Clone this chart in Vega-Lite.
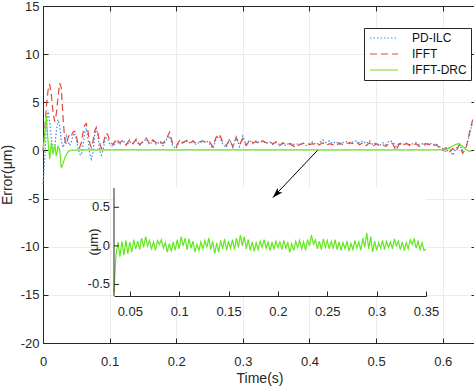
{
  "$schema": "https://vega.github.io/schema/vega-lite/v6.json",
  "width": 433,
  "height": 337,
  "autosize": "none",
  "padding": {"left": 43, "top": 6, "right": 0, "bottom": 43},
  "background": "white",
  "config": {
    "font": "Liberation Sans",
    "view": {"stroke": null},
    "axis": {
      "labelFont": "Liberation Sans",
      "titleFont": "Liberation Sans",
      "labelFontSize": 13,
      "titleFontSize": 14,
      "titleFontWeight": "normal",
      "labelColor": "#262626",
      "titleColor": "#262626",
      "domainColor": "#262626",
      "tickColor": "#262626",
      "tickSize": -5,
      "labelFlush": false,
      "gridColor": "#ececec",
      "labelExpr": "'' + datum.value"
    },
    "legend": {"labelFont": "Liberation Sans"}
  },
  "datasets": {
    "main": [
      {"t": 0, "PD-ILC": -3.5, "IFFT": 0, "IFFT-DRC": 0},
      {"t": 0.0025, "PD-ILC": -1.0, "IFFT": 2.0, "IFFT-DRC": 1.5},
      {"t": 0.005, "PD-ILC": 2.5, "IFFT": 4.5, "IFFT-DRC": 3.6},
      {"t": 0.0075, "PD-ILC": 4.2, "IFFT": 6.2, "IFFT-DRC": 1.0},
      {"t": 0.01, "PD-ILC": 3.0, "IFFT": 6.9, "IFFT-DRC": -0.9},
      {"t": 0.0125, "PD-ILC": 1.2, "IFFT": 5.8, "IFFT-DRC": 0.8},
      {"t": 0.015, "PD-ILC": 0.1, "IFFT": 4.0, "IFFT-DRC": -0.4},
      {"t": 0.0175, "PD-ILC": 0.2, "IFFT": 3.0, "IFFT-DRC": 0.6},
      {"t": 0.02, "PD-ILC": 2.0, "IFFT": 3.8, "IFFT-DRC": -0.6},
      {"t": 0.0225, "PD-ILC": 3.2, "IFFT": 5.5, "IFFT-DRC": 0.4},
      {"t": 0.025, "PD-ILC": 2.6, "IFFT": 7.0, "IFFT-DRC": 0.1},
      {"t": 0.0275, "PD-ILC": 1.0, "IFFT": 6.5, "IFFT-DRC": -1.8},
      {"t": 0.03, "PD-ILC": 0.3, "IFFT": 3.5, "IFFT-DRC": -1.4},
      {"t": 0.0325, "PD-ILC": 0.8, "IFFT": 1.2, "IFFT-DRC": -0.8},
      {"t": 0.035, "PD-ILC": 1.5, "IFFT": 0.6, "IFFT-DRC": -0.45},
      {"t": 0.0375, "PD-ILC": 1.0, "IFFT": 1.3, "IFFT-DRC": -0.15},
      {"t": 0.04, "PD-ILC": 0.5, "IFFT": 1.7, "IFFT-DRC": -0.05},
      {"t": 0.0425, "PD-ILC": 0.9, "IFFT": 1.5, "IFFT-DRC": 0.02},
      {"t": 0.045, "PD-ILC": 1.5, "IFFT": 1.9, "IFFT-DRC": 0.05},
      {"t": 0.0475, "PD-ILC": 1.8, "IFFT": 2.0, "IFFT-DRC": 0.0},
      {"t": 0.05, "PD-ILC": 1.2, "IFFT": 1.5, "IFFT-DRC": 0.06},
      {"t": 0.0525, "PD-ILC": 0.3, "IFFT": 0.7, "IFFT-DRC": 0.04},
      {"t": 0.055, "PD-ILC": -0.4, "IFFT": 0.3, "IFFT-DRC": 0.06},
      {"t": 0.0575, "PD-ILC": -0.5, "IFFT": 0.8, "IFFT-DRC": 0.05},
      {"t": 0.06, "PD-ILC": 0.5, "IFFT": 1.8, "IFFT-DRC": 0.07},
      {"t": 0.0625, "PD-ILC": 1.8, "IFFT": 2.6, "IFFT-DRC": 0.05},
      {"t": 0.065, "PD-ILC": 2.3, "IFFT": 2.8, "IFFT-DRC": 0.06},
      {"t": 0.0675, "PD-ILC": 1.2, "IFFT": 2.0, "IFFT-DRC": 0.05},
      {"t": 0.07, "PD-ILC": -0.3, "IFFT": 0.8, "IFFT-DRC": 0.07},
      {"t": 0.0725, "PD-ILC": -0.9, "IFFT": 0.3, "IFFT-DRC": 0.05},
      {"t": 0.075, "PD-ILC": -0.2, "IFFT": 0.9, "IFFT-DRC": 0.06},
      {"t": 0.0775, "PD-ILC": 1.5, "IFFT": 2.0, "IFFT-DRC": 0.05},
      {"t": 0.08, "PD-ILC": 2.3, "IFFT": 2.4, "IFFT-DRC": 0.07},
      {"t": 0.0825, "PD-ILC": 1.5, "IFFT": 1.8, "IFFT-DRC": 0.05},
      {"t": 0.085, "PD-ILC": 0.0, "IFFT": 0.8, "IFFT-DRC": 0.06},
      {"t": 0.0875, "PD-ILC": -0.5, "IFFT": 0.2, "IFFT-DRC": 0.05},
      {"t": 0.09, "PD-ILC": 0.0, "IFFT": 0.6, "IFFT-DRC": 0.07},
      {"t": 0.0925, "PD-ILC": 0.9, "IFFT": 1.3, "IFFT-DRC": 0.05},
      {"t": 0.095, "PD-ILC": 1.3, "IFFT": 1.8, "IFFT-DRC": 0.06},
      {"t": 0.0975, "PD-ILC": 1.1, "IFFT": 1.6, "IFFT-DRC": 0.05},
      {"t": 0.1, "PD-ILC": 0.7, "IFFT": 1.0, "IFFT-DRC": 0.06},
      {"t": 0.105, "PD-ILC": 0.4, "IFFT": 0.6, "IFFT-DRC": 0.05},
      {"t": 0.11, "PD-ILC": 1.0, "IFFT": 1.2, "IFFT-DRC": 0.08},
      {"t": 0.115, "PD-ILC": 0.6, "IFFT": 0.8, "IFFT-DRC": 0.05},
      {"t": 0.12, "PD-ILC": 1.1, "IFFT": 1.0, "IFFT-DRC": 0.06},
      {"t": 0.125, "PD-ILC": 0.5, "IFFT": 0.6, "IFFT-DRC": 0.07},
      {"t": 0.13, "PD-ILC": 0.9, "IFFT": 1.1, "IFFT-DRC": 0.05},
      {"t": 0.135, "PD-ILC": 0.7, "IFFT": 0.7, "IFFT-DRC": 0.08},
      {"t": 0.14, "PD-ILC": 1.0, "IFFT": 1.2, "IFFT-DRC": 0.06},
      {"t": 0.145, "PD-ILC": 0.5, "IFFT": 0.6, "IFFT-DRC": 0.05},
      {"t": 0.15, "PD-ILC": 0.9, "IFFT": 0.9, "IFFT-DRC": 0.07},
      {"t": 0.155, "PD-ILC": 1.2, "IFFT": 1.3, "IFFT-DRC": 0.06},
      {"t": 0.16, "PD-ILC": 0.6, "IFFT": 0.7, "IFFT-DRC": 0.05},
      {"t": 0.165, "PD-ILC": 1.0, "IFFT": 1.1, "IFFT-DRC": 0.07},
      {"t": 0.17, "PD-ILC": 0.6, "IFFT": 0.8, "IFFT-DRC": 0.06},
      {"t": 0.175, "PD-ILC": 0.9, "IFFT": 1.0, "IFFT-DRC": 0.05},
      {"t": 0.18, "PD-ILC": 0.5, "IFFT": 0.7, "IFFT-DRC": 0.08},
      {"t": 0.185, "PD-ILC": 1.1, "IFFT": 1.2, "IFFT-DRC": 0.06},
      {"t": 0.19, "PD-ILC": 1.5, "IFFT": 1.9, "IFFT-DRC": 0.07},
      {"t": 0.195, "PD-ILC": 0.4, "IFFT": 0.6, "IFFT-DRC": 0.05},
      {"t": 0.2, "PD-ILC": 0.2, "IFFT": 0.4, "IFFT-DRC": 0.06},
      {"t": 0.205, "PD-ILC": 1.0, "IFFT": 1.1, "IFFT-DRC": 0.07},
      {"t": 0.21, "PD-ILC": 0.7, "IFFT": 0.8, "IFFT-DRC": 0.05},
      {"t": 0.215, "PD-ILC": 1.1, "IFFT": 1.0, "IFFT-DRC": 0.06},
      {"t": 0.22, "PD-ILC": 0.8, "IFFT": 0.7, "IFFT-DRC": 0.08},
      {"t": 0.225, "PD-ILC": 0.9, "IFFT": 1.0, "IFFT-DRC": 0.06},
      {"t": 0.23, "PD-ILC": 0.6, "IFFT": 0.7, "IFFT-DRC": 0.05},
      {"t": 0.235, "PD-ILC": 0.9, "IFFT": 0.9, "IFFT-DRC": 0.07},
      {"t": 0.24, "PD-ILC": 0.8, "IFFT": 1.0, "IFFT-DRC": 0.06},
      {"t": 0.245, "PD-ILC": 1.0, "IFFT": 0.8, "IFFT-DRC": 0.05},
      {"t": 0.25, "PD-ILC": 0.7, "IFFT": 0.9, "IFFT-DRC": 0.07},
      {"t": 0.255, "PD-ILC": 0.2, "IFFT": 0.4, "IFFT-DRC": 0.06},
      {"t": 0.26, "PD-ILC": 1.2, "IFFT": 1.4, "IFFT-DRC": 0.05},
      {"t": 0.265, "PD-ILC": 1.5, "IFFT": 1.7, "IFFT-DRC": 0.07},
      {"t": 0.27, "PD-ILC": 0.6, "IFFT": 0.8, "IFFT-DRC": 0.06},
      {"t": 0.275, "PD-ILC": 0.3, "IFFT": 0.5, "IFFT-DRC": 0.05},
      {"t": 0.28, "PD-ILC": 1.2, "IFFT": 1.1, "IFFT-DRC": 0.06},
      {"t": 0.285, "PD-ILC": 0.3, "IFFT": 0.4, "IFFT-DRC": 0.07},
      {"t": 0.29, "PD-ILC": 1.4, "IFFT": 1.3, "IFFT-DRC": 0.05},
      {"t": 0.295, "PD-ILC": 0.4, "IFFT": 0.6, "IFFT-DRC": 0.06},
      {"t": 0.3, "PD-ILC": 1.5, "IFFT": 1.2, "IFFT-DRC": 0.07},
      {"t": 0.305, "PD-ILC": 0.6, "IFFT": 0.5, "IFFT-DRC": 0.05},
      {"t": 0.31, "PD-ILC": 1.1, "IFFT": 1.0, "IFFT-DRC": 0.06},
      {"t": 0.315, "PD-ILC": 0.7, "IFFT": 0.8, "IFFT-DRC": 0.07},
      {"t": 0.32, "PD-ILC": 1.0, "IFFT": 0.9, "IFFT-DRC": 0.05},
      {"t": 0.325, "PD-ILC": 0.8, "IFFT": 0.7, "IFFT-DRC": 0.06},
      {"t": 0.33, "PD-ILC": 1.0, "IFFT": 1.0, "IFFT-DRC": 0.06},
      {"t": 0.335, "PD-ILC": 0.7, "IFFT": 0.8, "IFFT-DRC": 0.05},
      {"t": 0.34, "PD-ILC": 0.9, "IFFT": 0.9, "IFFT-DRC": 0.07},
      {"t": 0.345, "PD-ILC": 0.6, "IFFT": 0.7, "IFFT-DRC": 0.06},
      {"t": 0.35, "PD-ILC": 0.8, "IFFT": 0.9, "IFFT-DRC": 0.05},
      {"t": 0.355, "PD-ILC": 0.6, "IFFT": 0.5, "IFFT-DRC": 0.07},
      {"t": 0.36, "PD-ILC": 0.7, "IFFT": 0.8, "IFFT-DRC": 0.06},
      {"t": 0.365, "PD-ILC": 0.5, "IFFT": 0.6, "IFFT-DRC": 0.05},
      {"t": 0.37, "PD-ILC": 0.8, "IFFT": 0.7, "IFFT-DRC": 0.06},
      {"t": 0.375, "PD-ILC": 0.6, "IFFT": 0.5, "IFFT-DRC": 0.07},
      {"t": 0.38, "PD-ILC": 0.7, "IFFT": 0.3, "IFFT-DRC": 0.05},
      {"t": 0.385, "PD-ILC": 0.6, "IFFT": 0.6, "IFFT-DRC": 0.06},
      {"t": 0.39, "PD-ILC": 0.8, "IFFT": 0.7, "IFFT-DRC": 0.07},
      {"t": 0.395, "PD-ILC": 0.5, "IFFT": 0.8, "IFFT-DRC": 0.05},
      {"t": 0.4, "PD-ILC": 0.7, "IFFT": 0.6, "IFFT-DRC": 0.06},
      {"t": 0.405, "PD-ILC": 0.9, "IFFT": 0.7, "IFFT-DRC": 0.07},
      {"t": 0.41, "PD-ILC": 0.6, "IFFT": 0.5, "IFFT-DRC": 0.05},
      {"t": 0.415, "PD-ILC": 0.8, "IFFT": 0.6, "IFFT-DRC": 0.06},
      {"t": 0.42, "PD-ILC": 1.1, "IFFT": 0.8, "IFFT-DRC": 0.06},
      {"t": 0.425, "PD-ILC": 0.8, "IFFT": 0.5, "IFFT-DRC": 0.05},
      {"t": 0.43, "PD-ILC": 1.0, "IFFT": 0.7, "IFFT-DRC": 0.07},
      {"t": 0.435, "PD-ILC": 0.7, "IFFT": 0.6, "IFFT-DRC": 0.06},
      {"t": 0.44, "PD-ILC": 0.9, "IFFT": 0.5, "IFFT-DRC": 0.05},
      {"t": 0.445, "PD-ILC": 0.6, "IFFT": 0.8, "IFFT-DRC": 0.06},
      {"t": 0.45, "PD-ILC": 0.8, "IFFT": 0.6, "IFFT-DRC": 0.07},
      {"t": 0.455, "PD-ILC": 0.9, "IFFT": 0.7, "IFFT-DRC": 0.05},
      {"t": 0.46, "PD-ILC": 0.7, "IFFT": 0.8, "IFFT-DRC": 0.06},
      {"t": 0.465, "PD-ILC": 0.9, "IFFT": 0.7, "IFFT-DRC": 0.05},
      {"t": 0.47, "PD-ILC": 1.0, "IFFT": 0.9, "IFFT-DRC": 0.07},
      {"t": 0.475, "PD-ILC": 0.8, "IFFT": 0.6, "IFFT-DRC": 0.06},
      {"t": 0.48, "PD-ILC": 1.0, "IFFT": 0.8, "IFFT-DRC": 0.05},
      {"t": 0.485, "PD-ILC": 0.7, "IFFT": 0.5, "IFFT-DRC": 0.06},
      {"t": 0.49, "PD-ILC": 1.0, "IFFT": 0.8, "IFFT-DRC": 0.07},
      {"t": 0.495, "PD-ILC": 0.6, "IFFT": 0.4, "IFFT-DRC": 0.05},
      {"t": 0.5, "PD-ILC": 0.8, "IFFT": 0.7, "IFFT-DRC": 0.06},
      {"t": 0.505, "PD-ILC": 0.5, "IFFT": 0.5, "IFFT-DRC": 0.07},
      {"t": 0.51, "PD-ILC": 0.8, "IFFT": 0.6, "IFFT-DRC": 0.05},
      {"t": 0.515, "PD-ILC": 0.6, "IFFT": 0.4, "IFFT-DRC": 0.06},
      {"t": 0.52, "PD-ILC": 1.0, "IFFT": 0.8, "IFFT-DRC": 0.05},
      {"t": 0.525, "PD-ILC": 0.9, "IFFT": 0.7, "IFFT-DRC": 0.07},
      {"t": 0.53, "PD-ILC": 0.4, "IFFT": 0.0, "IFFT-DRC": 0.06},
      {"t": 0.535, "PD-ILC": 0.8, "IFFT": 0.7, "IFFT-DRC": 0.05},
      {"t": 0.54, "PD-ILC": 0.6, "IFFT": 0.5, "IFFT-DRC": 0.06},
      {"t": 0.545, "PD-ILC": 0.8, "IFFT": 0.7, "IFFT-DRC": 0.07},
      {"t": 0.55, "PD-ILC": 0.5, "IFFT": 0.6, "IFFT-DRC": 0.05},
      {"t": 0.555, "PD-ILC": 0.7, "IFFT": 0.5, "IFFT-DRC": 0.06},
      {"t": 0.56, "PD-ILC": 0.8, "IFFT": 0.7, "IFFT-DRC": 0.05},
      {"t": 0.565, "PD-ILC": 0.6, "IFFT": 0.4, "IFFT-DRC": 0.07},
      {"t": 0.57, "PD-ILC": 0.7, "IFFT": 0.6, "IFFT-DRC": 0.06},
      {"t": 0.575, "PD-ILC": 0.5, "IFFT": 0.7, "IFFT-DRC": 0.05},
      {"t": 0.58, "PD-ILC": 0.8, "IFFT": 0.6, "IFFT-DRC": 0.06},
      {"t": 0.585, "PD-ILC": 0.6, "IFFT": 0.4, "IFFT-DRC": 0.07},
      {"t": 0.59, "PD-ILC": 0.7, "IFFT": 0.6, "IFFT-DRC": 0.05},
      {"t": 0.595, "PD-ILC": 0.4, "IFFT": 0.3, "IFFT-DRC": 0.08},
      {"t": 0.6, "PD-ILC": 0.2, "IFFT": 0.0, "IFFT-DRC": 0.05},
      {"t": 0.605, "PD-ILC": -0.2, "IFFT": 0.3, "IFFT-DRC": 0.1},
      {"t": 0.61, "PD-ILC": 0.3, "IFFT": -0.2, "IFFT-DRC": 0.25},
      {"t": 0.615, "PD-ILC": -0.5, "IFFT": 0.2, "IFFT-DRC": 0.45},
      {"t": 0.62, "PD-ILC": 0.2, "IFFT": -0.1, "IFFT-DRC": 0.65},
      {"t": 0.625, "PD-ILC": 0.6, "IFFT": 0.6, "IFFT-DRC": 0.7},
      {"t": 0.63, "PD-ILC": 0.0, "IFFT": -0.3, "IFFT-DRC": 0.4},
      {"t": 0.635, "PD-ILC": 0.4, "IFFT": 0.2, "IFFT-DRC": 0.1},
      {"t": 0.64, "PD-ILC": 1.5, "IFFT": 1.8, "IFFT-DRC": -0.1},
      {"t": 0.645, "PD-ILC": 3.0, "IFFT": 3.2, "IFFT-DRC": 0.0}
    ],
    "inset": [
      {"t": 0.034, "v": -0.6}, {"t": 0.035, "v": -0.35}, {"t": 0.036, "v": -0.12}, {"t": 0.038, "v": 0.05},
      {"t": 0.04, "v": -0.14}, {"t": 0.042, "v": 0.06}, {"t": 0.044, "v": -0.12}, {"t": 0.046, "v": 0.07},
      {"t": 0.048, "v": -0.1}, {"t": 0.05, "v": 0.05}, {"t": 0.052, "v": -0.08}, {"t": 0.054, "v": 0.08},
      {"t": 0.056, "v": -0.04}, {"t": 0.058, "v": 0.06}, {"t": 0.06, "v": -0.05}, {"t": 0.062, "v": 0.1},
      {"t": 0.064, "v": -0.02}, {"t": 0.066, "v": 0.12}, {"t": 0.068, "v": 0.0}, {"t": 0.07, "v": 0.07},
      {"t": 0.072, "v": -0.04}, {"t": 0.074, "v": 0.05}, {"t": 0.076, "v": -0.06}, {"t": 0.078, "v": 0.07},
      {"t": 0.08, "v": 0.02}, {"t": 0.082, "v": 0.08}, {"t": 0.084, "v": -0.03}, {"t": 0.086, "v": 0.04},
      {"t": 0.088, "v": -0.08}, {"t": 0.09, "v": 0.03}, {"t": 0.092, "v": -0.07}, {"t": 0.094, "v": 0.05},
      {"t": 0.096, "v": -0.06}, {"t": 0.098, "v": 0.08}, {"t": 0.1, "v": -0.04}, {"t": 0.102, "v": 0.12},
      {"t": 0.104, "v": 0.0}, {"t": 0.106, "v": 0.1}, {"t": 0.108, "v": -0.05}, {"t": 0.11, "v": 0.09},
      {"t": 0.112, "v": -0.03}, {"t": 0.114, "v": 0.06}, {"t": 0.116, "v": -0.08}, {"t": 0.118, "v": 0.02},
      {"t": 0.12, "v": -0.06}, {"t": 0.122, "v": 0.05}, {"t": 0.124, "v": -0.04}, {"t": 0.126, "v": 0.07},
      {"t": 0.128, "v": -0.02}, {"t": 0.13, "v": 0.1}, {"t": 0.132, "v": -0.05}, {"t": 0.134, "v": 0.06},
      {"t": 0.136, "v": -0.1}, {"t": 0.138, "v": 0.04}, {"t": 0.14, "v": -0.08}, {"t": 0.142, "v": 0.07},
      {"t": 0.144, "v": -0.04}, {"t": 0.146, "v": 0.09}, {"t": 0.148, "v": -0.06}, {"t": 0.15, "v": 0.06},
      {"t": 0.152, "v": -0.03}, {"t": 0.154, "v": 0.08}, {"t": 0.156, "v": -0.05}, {"t": 0.158, "v": 0.1},
      {"t": 0.16, "v": -0.02}, {"t": 0.162, "v": 0.14}, {"t": 0.164, "v": 0.0}, {"t": 0.166, "v": 0.12},
      {"t": 0.168, "v": -0.04}, {"t": 0.17, "v": 0.08}, {"t": 0.172, "v": -0.06}, {"t": 0.174, "v": 0.05},
      {"t": 0.176, "v": -0.07}, {"t": 0.178, "v": 0.04}, {"t": 0.18, "v": -0.05}, {"t": 0.182, "v": 0.06},
      {"t": 0.184, "v": -0.02}, {"t": 0.186, "v": 0.08}, {"t": 0.188, "v": -0.03}, {"t": 0.19, "v": 0.05},
      {"t": 0.192, "v": -0.06}, {"t": 0.194, "v": 0.04}, {"t": 0.196, "v": -0.04}, {"t": 0.198, "v": 0.06},
      {"t": 0.2, "v": -0.02}, {"t": 0.202, "v": 0.05}, {"t": 0.204, "v": -0.05}, {"t": 0.206, "v": 0.07},
      {"t": 0.208, "v": -0.03}, {"t": 0.21, "v": 0.04}, {"t": 0.212, "v": -0.08}, {"t": 0.214, "v": 0.03},
      {"t": 0.216, "v": -0.06}, {"t": 0.218, "v": 0.06}, {"t": 0.22, "v": -0.02}, {"t": 0.222, "v": 0.07},
      {"t": 0.224, "v": -0.04}, {"t": 0.226, "v": 0.05}, {"t": 0.228, "v": -0.06}, {"t": 0.23, "v": 0.08},
      {"t": 0.232, "v": 0.0}, {"t": 0.234, "v": 0.14}, {"t": 0.236, "v": 0.02}, {"t": 0.238, "v": 0.08},
      {"t": 0.24, "v": -0.04}, {"t": 0.242, "v": 0.06}, {"t": 0.244, "v": -0.05}, {"t": 0.246, "v": 0.09},
      {"t": 0.248, "v": -0.02}, {"t": 0.25, "v": 0.07}, {"t": 0.252, "v": -0.04}, {"t": 0.254, "v": 0.06},
      {"t": 0.256, "v": -0.03}, {"t": 0.258, "v": 0.08}, {"t": 0.26, "v": -0.05}, {"t": 0.262, "v": 0.05},
      {"t": 0.264, "v": -0.06}, {"t": 0.266, "v": 0.04}, {"t": 0.268, "v": -0.04}, {"t": 0.27, "v": 0.06},
      {"t": 0.272, "v": -0.07}, {"t": 0.274, "v": 0.03}, {"t": 0.276, "v": -0.05}, {"t": 0.278, "v": 0.07},
      {"t": 0.28, "v": -0.03}, {"t": 0.282, "v": 0.05}, {"t": 0.284, "v": -0.06}, {"t": 0.286, "v": 0.1},
      {"t": 0.288, "v": -0.02}, {"t": 0.29, "v": 0.17}, {"t": 0.292, "v": -0.04}, {"t": 0.294, "v": 0.12},
      {"t": 0.296, "v": -0.08}, {"t": 0.298, "v": 0.06}, {"t": 0.3, "v": -0.06}, {"t": 0.302, "v": 0.04},
      {"t": 0.304, "v": -0.03}, {"t": 0.306, "v": 0.07}, {"t": 0.308, "v": -0.05}, {"t": 0.31, "v": 0.06},
      {"t": 0.312, "v": -0.02}, {"t": 0.314, "v": 0.05}, {"t": 0.316, "v": -0.04}, {"t": 0.318, "v": 0.09},
      {"t": 0.32, "v": 0.0}, {"t": 0.322, "v": 0.06}, {"t": 0.324, "v": -0.05}, {"t": 0.326, "v": 0.05},
      {"t": 0.328, "v": -0.06}, {"t": 0.33, "v": 0.04}, {"t": 0.332, "v": -0.04}, {"t": 0.334, "v": 0.08},
      {"t": 0.336, "v": 0.02}, {"t": 0.338, "v": 0.09}, {"t": 0.34, "v": -0.03}, {"t": 0.342, "v": 0.06},
      {"t": 0.344, "v": -0.05}, {"t": 0.346, "v": 0.04}, {"t": 0.348, "v": -0.06}, {"t": 0.35, "v": -0.04}
    ],
    "iy": [{"v": -0.5, "lab": "-0.5"}, {"v": 0, "lab": "0"}, {"v": 0.5, "lab": "0.5"}],
    "ititle": [{"label": "(μm)"}],
    "arrow": [{"x0": 0.412, "y0": 0, "x1": 0.345, "y1": -4.9}],
    "box": [{"x0": 0.034, "x1": 0.35, "y0": -0.65, "y1": 0.75}]
  },
  "layer": [
    {
      "data": {"name": "main"},
      "transform": [{"fold": ["PD-ILC", "IFFT", "IFFT-DRC"], "as": ["series", "v"]}],
      "mark": {"type": "line", "strokeWidth": 1.2},
      "encoding": {
        "x": {
          "field": "t", "type": "quantitative",
          "scale": {"domain": [0, 0.65], "nice": false, "zero": false},
          "axis": {"orient": "bottom", "title": "Time(s)", "values": [0, 0.1, 0.2, 0.3, 0.4, 0.5, 0.6], "labelPadding": 17, "titlePadding": 3, "grid": true}
        },
        "y": {
          "field": "v", "type": "quantitative",
          "scale": {"domain": [-20, 15], "nice": false, "zero": false},
          "axis": {"orient": "left", "title": "Error(μm)", "values": [-20, -15, -10, -5, 0, 5, 10, 15], "labelPadding": 9, "titlePadding": 6, "grid": true}
        },
        "color": {
          "field": "series", "type": "nominal",
          "scale": {"domain": ["PD-ILC", "IFFT", "IFFT-DRC"], "range": ["#3d8be0", "#e2473a", "#62e81e"]},
          "legend": {
            "orient": "none", "legendX": 321, "legendY": 22, "title": null,
            "strokeColor": "#262626", "fillColor": "white", "padding": 4,
            "symbolType": "M-3.5,0H3.5", "symbolSize": 64, "symbolStrokeWidth": 1.2, "symbolOffset": 10,
            "labelFontSize": 12, "labelColor": "#111111", "rowPadding": 4, "labelOffset": 22, "cornerRadius": 0
          }
        },
        "strokeDash": {
          "field": "series", "type": "nominal",
          "scale": {"domain": ["PD-ILC", "IFFT", "IFFT-DRC"], "range": [[1.5, 2], [7, 4], [1, 0]]},
          "legend": {
            "orient": "none", "legendX": 321, "legendY": 22, "title": null,
            "strokeColor": "#262626", "fillColor": "white", "padding": 4,
            "symbolType": "M-3.5,0H3.5", "symbolSize": 64, "symbolStrokeWidth": 1.2, "symbolOffset": 10,
            "labelFontSize": 12, "labelColor": "#111111", "rowPadding": 4, "labelOffset": 22, "cornerRadius": 0
          }
        }
      }
    },
    {
      "data": {"name": "main"},
      "mark": {"type": "point", "opacity": 0},
      "encoding": {
        "x": {
          "field": "t", "type": "quantitative",
          "scale": {"domain": [0, 0.65], "nice": false, "zero": false},
          "axis": {"orient": "top", "labels": false, "title": null, "values": [0, 0.1, 0.2, 0.3, 0.4, 0.5, 0.6], "grid": false, "zindex": 1}
        },
        "y": {
          "field": "IFFT", "type": "quantitative",
          "scale": {"domain": [-20, 15], "nice": false, "zero": false},
          "axis": {"orient": "right", "labels": false, "title": null, "values": [-20, -15, -10, -5, 0, 5, 10, 15], "grid": false, "zindex": 1}
        }
      }
    },
    {
      "layer": [
        {
          "data": {"name": "box"},
          "mark": {"type": "rect", "fill": "white"},
          "encoding": {
            "x": {
              "field": "x0", "type": "quantitative", "title": null,
              "scale": {"domain": [0.034, 0.35], "range": [71, 383], "nice": false, "zero": false},
              "axis": {"orient": "bottom", "offset": -47, "title": null, "values": [0.05, 0.1, 0.15, 0.2, 0.25, 0.3, 0.35], "labelPadding": 14, "grid": false, "zindex": 1}
            },
            "x2": {"field": "x1"},
            "y": {
              "field": "y0", "type": "quantitative", "axis": null,
              "scale": {"domain": [-0.65, 0.75], "range": [290, 182], "nice": false, "zero": false}
            },
            "y2": {"field": "y1"}
          }
        },
        {
          "data": {"name": "inset"},
          "mark": {"type": "line", "color": "#62e81e", "strokeWidth": 1.2},
          "encoding": {
            "x": {"field": "t", "type": "quantitative", "title": null, "scale": {"domain": [0.034, 0.35], "range": [71, 383], "nice": false, "zero": false}},
            "y": {"field": "v", "type": "quantitative", "axis": null, "scale": {"domain": [-0.65, 0.75], "range": [290, 182], "nice": false, "zero": false}}
          }
        },
        {
          "data": {"name": "box"},
          "mark": {"type": "rule", "color": "#262626", "strokeWidth": 1},
          "encoding": {
            "x": {"field": "x0", "type": "quantitative", "title": null},
            "y": {"field": "y0", "type": "quantitative", "axis": null},
            "y2": {"field": "y1"}
          }
        },
        {
          "data": {"name": "iy"},
          "mark": {"type": "rule", "color": "#262626", "strokeWidth": 1},
          "encoding": {
            "x": {"datum": 0.034, "type": "quantitative", "title": null},
            "x2": {"datum": 0.0391},
            "y": {"field": "v", "type": "quantitative", "axis": null}
          }
        },
        {
          "data": {"name": "iy"},
          "mark": {"type": "text", "align": "right", "baseline": "middle", "dx": -4, "font": "Liberation Sans", "fontSize": 13, "color": "#262626"},
          "encoding": {
            "x": {"datum": 0.034, "type": "quantitative", "title": null},
            "y": {"field": "v", "type": "quantitative", "axis": null},
            "text": {"field": "lab"}
          }
        },
        {
          "data": {"name": "ititle"},
          "mark": {"type": "text", "align": "center", "baseline": "middle", "angle": 270, "font": "Liberation Sans", "fontSize": 13, "color": "#262626"},
          "encoding": {
            "x": {"datum": 0.0137, "type": "quantitative", "title": null},
            "y": {"datum": 0.05, "type": "quantitative", "axis": null},
            "text": {"field": "label"}
          }
        }
      ]
    },
    {
      "layer": [
        {
          "data": {"name": "arrow"},
          "mark": {"type": "rule", "color": "black", "strokeWidth": 1},
          "encoding": {
            "x": {"field": "x0", "type": "quantitative", "axis": null, "scale": {"domain": [0, 0.65], "nice": false, "zero": false}},
            "x2": {"field": "x1"},
            "y": {"field": "y0", "type": "quantitative", "axis": null, "scale": {"domain": [-20, 15], "nice": false, "zero": false}},
            "y2": {"field": "y1"}
          }
        },
        {
          "data": {"name": "arrow"},
          "mark": {"type": "point", "shape": "M0,0L0.55,1.7L0,1.25L-0.55,1.7Z", "filled": true, "color": "black", "opacity": 1, "size": 150, "angle": 224},
          "encoding": {
            "x": {"field": "x1", "type": "quantitative", "axis": null, "scale": {"domain": [0, 0.65], "nice": false, "zero": false}},
            "y": {"field": "y1", "type": "quantitative", "axis": null, "scale": {"domain": [-20, 15], "nice": false, "zero": false}}
          }
        }
      ]
    }
  ],
  "resolve": {
    "scale": {"x": "independent", "y": "independent"},
    "axis": {"x": "independent", "y": "independent"}
  }
}
